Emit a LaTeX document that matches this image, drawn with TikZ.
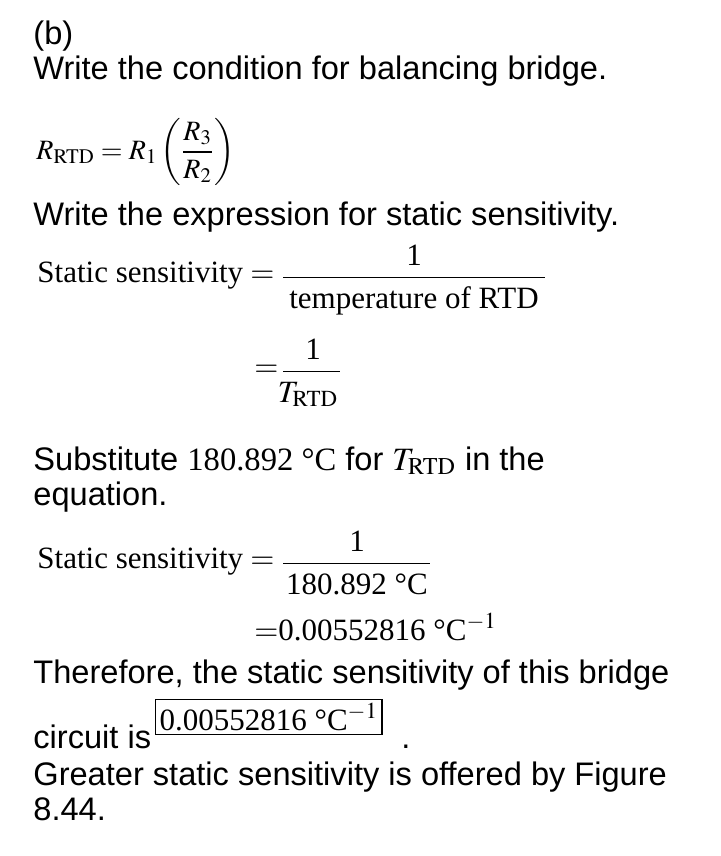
\documentclass[tikz,border=0pt]{standalone}
\usepackage{mathptmx}
\usepackage{fontspec}
\setmainfont{Liberation Sans}
\newfontfamily\serif{Liberation Serif}
\usepackage{amsmath}
\begin{document}
\begin{tikzpicture}[x=0.5pt,y=-0.5pt,
  txt/.style={anchor=base west,inner sep=0pt,font=\fontsize{16.3}{18}\selectfont},
  mth/.style={anchor=base west,inner sep=0pt,font=\fontsize{15.5}{17}\serif},
  bar/.style={line width=0.5pt}]
\useasboundingbox[fill=white] (0,0) rectangle (720,856);
\node[txt] (b) at (33,45) {(b)};
\node[txt] (t1) at (33,80) {Write the condition for balancing bridge.};
\node[anchor=west,inner sep=0pt,font=\fontsize{14}{16}\selectfont] (e1) at (36,152) {$R_{\mathrm{RTD}}=R_1\left(\dfrac{R_3}{R_2}\right)$};
\node[txt] (t2) at (33,225) {Write the expression for static sensitivity.};
\node[mth] (ss1) at (37,282) {Static sensitivity};
\node[mth] (eq1) at (250,282) {$=$};
\draw[bar] (283,277) -- (545,277);
\node[mth,anchor=base] (n1) at (414,265) {1};
\node[mth,anchor=base] (d1) at (414,308) {temperature of RTD};
\node[mth] (eq2) at (254,376) {$=$};
\draw[bar] (283,371) -- (340,371);
\node[mth,anchor=base] (n2) at (313,359) {1};
\node[mth,anchor=base] (d2) at (308,402) {$T_{\mathrm{RTD}}$};
\node[txt] (t3) at (33,470) {Substitute {\serif 180.892 \textdegree C} for {\serif$T_{\mathrm{RTD}}$} in the};
\node[txt] (t4) at (33,505) {equation.};
\node[mth] (ss2) at (37,568) {Static sensitivity};
\node[mth] (eq3) at (250,568) {$=$};
\draw[bar] (283,563) -- (430,563);
\node[mth,anchor=base] (n3) at (357,551) {1};
\node[mth,anchor=base] (d3) at (357,594) {180.892 \textdegree C};
\node[mth] (r1) at (254,640) {$=$0.00552816 \textdegree C$^{-1}$};
\node[txt] (t5) at (33,683) {Therefore, the static sensitivity of this bridge};
\node[txt] (t6) at (33,748) {circuit is};
\node[mth,draw,line width=0.6pt,inner sep=2pt,anchor=base west] (box) at (155,730) {0.00552816 \textdegree C$^{-1}$};
\node[txt] (dot) at (401,748) {.};
\node[txt] (t7) at (33,785) {Greater static sensitivity is offered by Figure};
\node[txt] (t8) at (33,820) {8.44.};
\end{tikzpicture}
\end{document}
